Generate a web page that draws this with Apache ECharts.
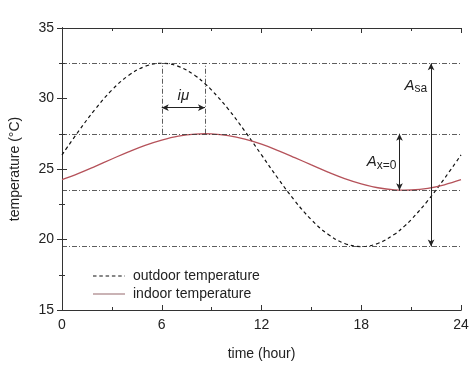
<!DOCTYPE html>
<html>
<head>
<meta charset="utf-8">
<script src="https://cdn.jsdelivr.net/npm/echarts@6/dist/echarts.min.js"></script>
<style>html,body{margin:0;padding:0;background:#fff}#c{width:474px;height:369px}</style>
</head>
<body>
<div id="c"></div>
<script>
// time (hour)
const hours = [0,1,2,3,4,5,6,7,8,8.6,9,10,11,12,13,14,15,16,17,18,19,20,20.6,21,22,23,24];
// outdoor temperature (°C)
const outdoor = [26.0,27.68,29.25,30.60,31.63,32.28,32.5,32.28,31.63,31.05,30.60,29.25,27.68,26.0,24.32,22.75,21.40,20.37,19.72,19.5,19.72,20.37,20.95,21.40,22.75,24.32,26.0];
// indoor temperature (°C)
const indoor = [24.24,24.69,25.19,25.71,26.22,26.68,27.05,27.33,27.48,27.5,27.49,27.37,27.12,26.76,26.31,25.81,25.29,24.78,24.32,23.95,23.67,23.52,23.5,23.51,23.63,23.88,24.24];
const seriesNames = ['outdoor temperature','indoor temperature'];
// reference levels
const levels = [32.5, 27.5, 23.5, 19.5];
const tOutPeak = 6, tInPeak = 8.6;
const tLagY = 29.35;
const tAsa = 22.2, tAx0 = 20.3;

const chart = echarts.init(document.getElementById('c'));
const font = 'Liberation Sans, Arial, sans-serif';
const axisCol = '#333';
const outCol = '#111', inCol = '#b5525a';
const refStyle = {color:'#333', width:0.8, type:[5,2,1,2]};

const pair = (a,b)=>a.map((v,i)=>[v,b[i]]);

function xAx(extra){
  return Object.assign({
    type:'value', min:0, max:24, interval:6,
    axisLine:{show:true, lineStyle:{color:axisCol, width:1}},
    axisTick:{show:true, inside:true, length:5, lineStyle:{color:axisCol}},
    axisLabel:{show:false}, splitLine:{show:false}
  }, extra);
}
function yAx(extra){
  return Object.assign({
    type:'value', min:15, max:35, interval:5,
    axisLine:{show:true, lineStyle:{color:axisCol, width:1}},
    axisTick:{show:true, inside:true, length:5, lineStyle:{color:axisCol}},
    axisLabel:{show:false}, splitLine:{show:false}
  }, extra);
}
const minorTick = {show:true, inside:true, length:3, lineStyle:{color:axisCol}};

const option = {
  animation:false,
  textStyle:{fontFamily:font},
  grid:{left:61, right:13, top:28, bottom:59},
  xAxis:[
    xAx({
      name:'time (hour)', nameLocation:'middle', nameGap:37,
      nameTextStyle:{fontSize:14, color:'#222'},
      axisLabel:{show:true, fontSize:14, color:'#222', margin:8}
    }),
    xAx({position:'top'}),
    xAx({position:'bottom', interval:3, axisTick:minorTick}),
    xAx({position:'top', interval:3, axisTick:minorTick})
  ],
  yAxis:[
    yAx({
      name:'temperature (°C)', nameLocation:'middle', nameGap:40,
      nameTextStyle:{fontSize:14, color:'#222'},
      axisLabel:{show:true, fontSize:14, color:'#222', margin:8}
    }),
    yAx({position:'right'}),
    yAx({position:'left', interval:2.5, axisTick:minorTick}),
    yAx({position:'right', interval:2.5, axisTick:minorTick})
  ],
  series:[
    {
      name:seriesNames[0], type:'line', smooth:0.4, symbol:'none',
      data:pair(hours, outdoor),
      lineStyle:{color:outCol, width:1.2, type:[3.5,3]},
      z:3
    },
    {
      name:seriesNames[1], type:'line', smooth:0.4, symbol:'none',
      data:pair(hours, indoor),
      lineStyle:{color:inCol, width:1.3},
      z:3
    },
    {
      name:'refs', type:'line', data:[], symbol:'none', silent:true,
      markLine:{
        silent:true, symbol:['none','none'], label:{show:false},
        lineStyle:refStyle,
        data:[
          ...levels.map(l=>[{coord:[0,l]},{coord:[24,l]}]),
          [{coord:[tOutPeak,levels[1]]},{coord:[tOutPeak,levels[0]]}],
          [{coord:[tInPeak,levels[1]]},{coord:[tInPeak,levels[0]]}]
        ]
      }
    },
    {
      name:'arrows', type:'line', data:[], symbol:'none', silent:true,
      markLine:{
        silent:true, symbol:['arrow','arrow'], symbolSize:[5,7], label:{show:false},
        lineStyle:{color:'#222', width:1, type:'solid'},
        data:[
          [{coord:[tOutPeak,tLagY]},{coord:[tInPeak,tLagY]}],
          [{coord:[tAsa,levels[0]]},{coord:[tAsa,levels[3]]}],
          [{coord:[tAx0,levels[1]]},{coord:[tAx0,levels[2]]}]
        ]
      }
    }
  ]
};
chart.setOption(option);

function px(x,y){return chart.convertToPixel({xAxisIndex:0,yAxisIndex:0},[x,y]);}
const pLag = px((tOutPeak+tInPeak)/2, tLagY);
const pAsa = px(tAsa, 30.9);
const pAx0 = px(tAx0, 25.5);
const lgX = 93, lgY = 276, lgGap = 18;
chart.setOption({graphic:[
  {type:'text', x:pLag[0], y:pLag[1]-4, style:{text:'iμ', font:'italic 15px '+font, fill:'#222', textAlign:'center', textVerticalAlign:'bottom'}},
  {type:'text', x:pAsa[0]-4, y:pAsa[1], style:{
    text:'{a|A}{s|sa}', textAlign:'right', textVerticalAlign:'middle',
    rich:{a:{font:'italic 15px '+font, fill:'#222'}, s:{font:'12px '+font, fill:'#222', padding:[6,0,0,0]}}
  }},
  {type:'text', x:pAx0[0]-3, y:pAx0[1], style:{
    text:'{a|A}{s|x=0}', textAlign:'right', textVerticalAlign:'middle',
    rich:{a:{font:'italic 15px '+font, fill:'#222'}, s:{font:'12px '+font, fill:'#222', padding:[8,0,0,0]}}
  }},
  {type:'line', shape:{x1:lgX, y1:lgY, x2:lgX+32, y2:lgY}, style:{stroke:outCol, lineWidth:1.1, lineDash:[3.5,2.8]}},
  {type:'text', x:lgX+40, y:lgY, style:{text:seriesNames[0], font:'14px '+font, fill:'#222', textVerticalAlign:'middle'}},
  {type:'line', shape:{x1:lgX, y1:lgY+lgGap, x2:lgX+32, y2:lgY+lgGap}, style:{stroke:'#b89a9c', lineWidth:1.5}},
  {type:'text', x:lgX+40, y:lgY+lgGap, style:{text:seriesNames[1], font:'14px '+font, fill:'#222', textVerticalAlign:'middle'}}
]});
</script>
</body>
</html>
